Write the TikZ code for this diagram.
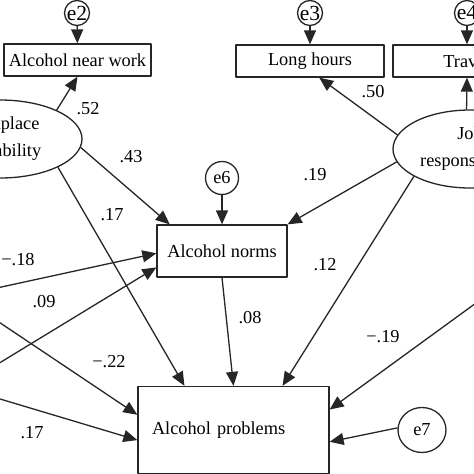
\documentclass[tikz,border=0pt]{standalone}
\usepackage{fontspec}
\setmainfont{Liberation Serif}
\usetikzlibrary{arrows.meta,shapes.geometric}
\begin{document}
\begin{tikzpicture}[x=1pt,y=-1pt,>={Triangle[length=14pt,width=12pt]},font=\fontsize{18.3}{21}\selectfont,line join=round]
	\tikzset{box/.style={draw=black!85,line width=1.3pt,inner sep=0pt},
		lat/.style={draw=black!85,line width=1.3pt,ellipse,inner sep=0pt,align=center,font=\fontsize{18.3}{27}\selectfont},
		err/.style={draw=black!85,line width=1.3pt,circle,inner sep=0pt,minimum size=25pt},
		toperr/.style={err,font=\fontsize{21.5}{22}\selectfont},
		eff/.style={->,draw=black!85,line width=1.3pt},
		coef/.style={inner sep=0pt}}
	\useasboundingbox (0,0) rectangle (474,474);
	\clip (0,0) rectangle (474,474);
	% observed variables and their errors
	\node[toperr] (e2) at (77,13) {e2};
	\node[toperr] (e3) at (310,13) {e3};
	\node[toperr] (e4) at (467,13) {e4};
	\node[box,minimum width=147pt,minimum height=32pt] (anw) at (77.5,60) {Alcohol near work};
	\node[box,minimum width=148pt,minimum height=32pt] (lh) at (310,61) {Long hours};
	\node[box,minimum width=148pt,minimum height=32pt] (tr) at (467,61) {Travel};
	% latent variables
	\node[lat,minimum width=164pt,minimum height=78pt] (wa) at (0,139) {Workplace\\availability};
	\node[lat,minimum width=154pt,minimum height=78pt] (jr) at (470,149) {Job\\responsibility};
	\node[err,minimum size=33pt] (e6) at (222,178) {e6};
	\node[box,minimum width=130pt,minimum height=52pt] (an) at (222,251) {Alcohol norms};
	\node[box,minimum width=191pt,minimum height=87pt,text width=163pt,inner xsep=14pt,align=left] (ap) at (233.5,430) {Alcohol problems};
	\node[err,ellipse,minimum width=48pt,minimum height=45pt] (e7) at (422,430) {e7};
	% sources outside the frame
	\coordinate (ls1) at (-40,296);
	\coordinate (ls2) at (-40,387);
	\coordinate (rs1) at (520,271);
	% paths
	\draw[eff] (e2) -- (anw);
	\draw[eff] (e3) -- (lh);
	\draw[eff] (e4) -- (tr);
	\draw[eff] (e6) -- (an);
	\draw[eff] (wa.27) -- (anw.south);
	\draw[eff] (wa.-6) -- (an.153);
	\draw[eff] (wa.-26) -- (ap.138);
	\draw[eff] (an.south) -- (ap.north);
	\draw[eff] (jr.169) -- (lh.-61);
	\draw[eff] (jr.95) -- (tr.south);
	\draw[eff] (jr.190) -- (an.north east);
	\draw[eff] (jr.206) -- (ap.42);
	\draw[eff] (e7.175) -- (ap.-7);
	\draw[eff] (rs1) -- (ap.12);
	\draw[eff] (ls1) -- (an.182);
	\draw[eff] (ls1) -- (ap.171);
	\draw[eff] (ls2) -- (an.194);
	\draw[eff] (ls2) -- (ap.186);
	% coefficients
	\node[coef] (c52) at (88,109) {.52};
	\node[coef] (c43) at (131,157) {.43};
	\node[coef] (c17a) at (112,215) {.17};
	\node[coef] (c18) at (18,260) {−.18};
	\node[coef] (c09) at (44,302) {.09};
	\node[coef] (c22) at (109,362) {−.22};
	\node[coef] (c17b) at (32,433) {.17};
	\node[coef] (c08) at (250,318) {.08};
	\node[coef] (c12) at (325,265) {.12};
	\node[coef] (c19a) at (315,175) {.19};
	\node[coef] (c50) at (373,92) {.50};
	\node[coef] (c19b) at (383,337) {−.19};
\end{tikzpicture}
\end{document}
